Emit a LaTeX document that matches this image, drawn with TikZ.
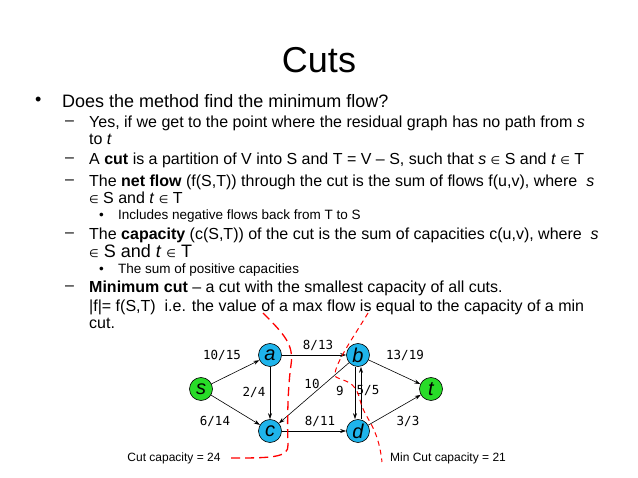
\documentclass[tikz,border=0pt]{standalone}
\usepackage{fontspec}
\usetikzlibrary{arrows.meta}
\setmainfont{Liberation Sans}
\newfontfamily\dv{DejaVu Sans}
\newfontfamily\mono{DejaVu Sans Mono}
\newcommand{\el}{{\dv\fontsize{11}{11}\selectfont ∈}}
\definecolor{nodeblue}{RGB}{30,180,235}
\definecolor{nodegreen}{RGB}{40,220,40}
\begin{document}
\begin{tikzpicture}[x=1pt,y=-1pt,
  vert/.style={circle,draw=black,line width=0.6pt,minimum size=23pt,inner sep=0pt,font=\fontsize{20}{20}\selectfont\itshape},
  blue/.style={vert,fill=nodeblue},
  green/.style={vert,fill=nodegreen},
  edge/.style={-{Stealth[length=6pt,width=4pt]},line width=0.6pt},
  lab/.style={font=\mono\fontsize{12.5}{12.5}\selectfont,inner sep=0pt},
  lone/.style={anchor=west,inner sep=0pt,font=\fontsize{18}{18}\selectfont},
  ltwo/.style={anchor=west,inner sep=0pt,font=\fontsize{16}{16}\selectfont},
  lthree/.style={anchor=west,inner sep=0pt,font=\fontsize{13.5}{13.5}\selectfont},
  cutA/.style={red,line width=1.3pt,dash pattern=on 9pt off 5pt},
  cutB/.style={red,line width=1pt,dash pattern=on 5pt off 4pt}]
\useasboundingbox (0,0) rectangle (638,478);
\node[font=\fontsize{36}{36}\selectfont] (title) at (319,60) {Cuts};
\node[lone] (b0) at (35,101) {•};
\node[lone] (l1) at (62,101) {Does the method find the minimum flow?};
\node[ltwo] (d1) at (65,123) {–};
\node[ltwo] (l2) at (89,123) {Yes, if we get to the point where the residual graph has no path from \textit{s}};
\node[ltwo] (l2b) at (89,139) {to \textit{t}};
\node[ltwo] (d2) at (65,160) {–};
\node[ltwo] (l3) at (89,160) {A \textbf{cut} is a partition of V into S and T = V – S, such that \textit{s} \el{} S and \textit{t} \el{} T};
\node[ltwo] (d3) at (65,182) {–};
\node[ltwo] (l4) at (89,182) {The \textbf{net flow} (f(S,T)) through the cut is the sum of flows f(u,v), where~ \textit{s}};
\node[ltwo] (l4b) at (89,198) {\el{} S and \textit{t} \el{} T};
\node[lthree] (b3) at (99,216) {•};
\node[lthree] (l5) at (118,216) {Includes negative flows back from T to S};
\node[ltwo] (d4) at (65,235) {–};
\node[ltwo] (l6) at (89,235) {The \textbf{capacity} (c(S,T)) of the cut is the sum of capacities c(u,v), where~ \textit{s}};
\node[ltwo,font=\fontsize{18}{18}\selectfont] (l6b) at (89,251) {\el{} S and \textit{t} \el{} T};
\node[lthree] (b4) at (99,270) {•};
\node[lthree] (l7) at (118,270) {The sum of positive capacities};
\node[ltwo] (d5) at (65,288) {–};
\node[ltwo] (l8) at (89,288) {\textbf{Minimum cut} – a cut with the smallest capacity of all cuts.};
\node[ltwo] (l9) at (89,307) {|f|= f(S,T)~ i.e. the value of a max flow is equal to the capacity of a min};
\node[ltwo] (l9b) at (89,323) {cut.};

\node[green] (s) at (201,389) {s};
\node[blue] (a) at (270,355) {a};
\node[blue] (b) at (358,355) {b};
\node[green] (t) at (431,389) {t};
\node[blue] (c) at (270,431) {c};
\node[blue] (d) at (358,431) {d};
\draw[edge] (s) -- (a);
\draw[edge] (s) -- (c);
\draw[edge] (a) -- (b);
\draw[edge] (a) -- (c);
\draw[edge] (b) -- (c);
\draw[edge] (c) -- (d);
\draw[edge] ([xshift=-3pt]b.south) -- ([xshift=-3pt]d.north);
\draw[edge] ([xshift=3pt]d.north) -- ([xshift=3pt]b.south);
\draw[edge] (b) -- (t);
\draw[edge] (d) -- (t);
\node[lab] (e1) at (222,355) {10/15};
\node[lab] (e2) at (318,345) {8/13};
\node[lab] (e3) at (405,355) {13/19};
\node[lab] (e4) at (254,392) {2/4};
\node[lab] (e5) at (312,384) {10};
\node[lab] (e6) at (340,391) {9};
\node[lab] (e7) at (368,391) {5/5};
\node[lab] (e8) at (215,421) {6/14};
\node[lab] (e9) at (320,421) {8/11};
\node[lab] (e10) at (408,421) {3/3};
\node[font=\fontsize{12}{12}\selectfont] (cc) at (174,458) {Cut capacity = 24};
\node[font=\fontsize{12}{12}\selectfont] (mc) at (448,458) {Min Cut capacity = 21};
\draw[cutA] (263,313) .. controls (285,335) and (294,345) .. (291,365) .. controls (288,385) and (287,420) .. (288,445) .. controls (289,458) and (270,458) .. (230,458);
\draw[cutB] (368,313) .. controls (355,335) and (330,370) .. (336,377) .. controls (345,382) and (355,380) .. (360,400) .. controls (365,420) and (378,425) .. (382,462);
\end{tikzpicture}
\end{document}
